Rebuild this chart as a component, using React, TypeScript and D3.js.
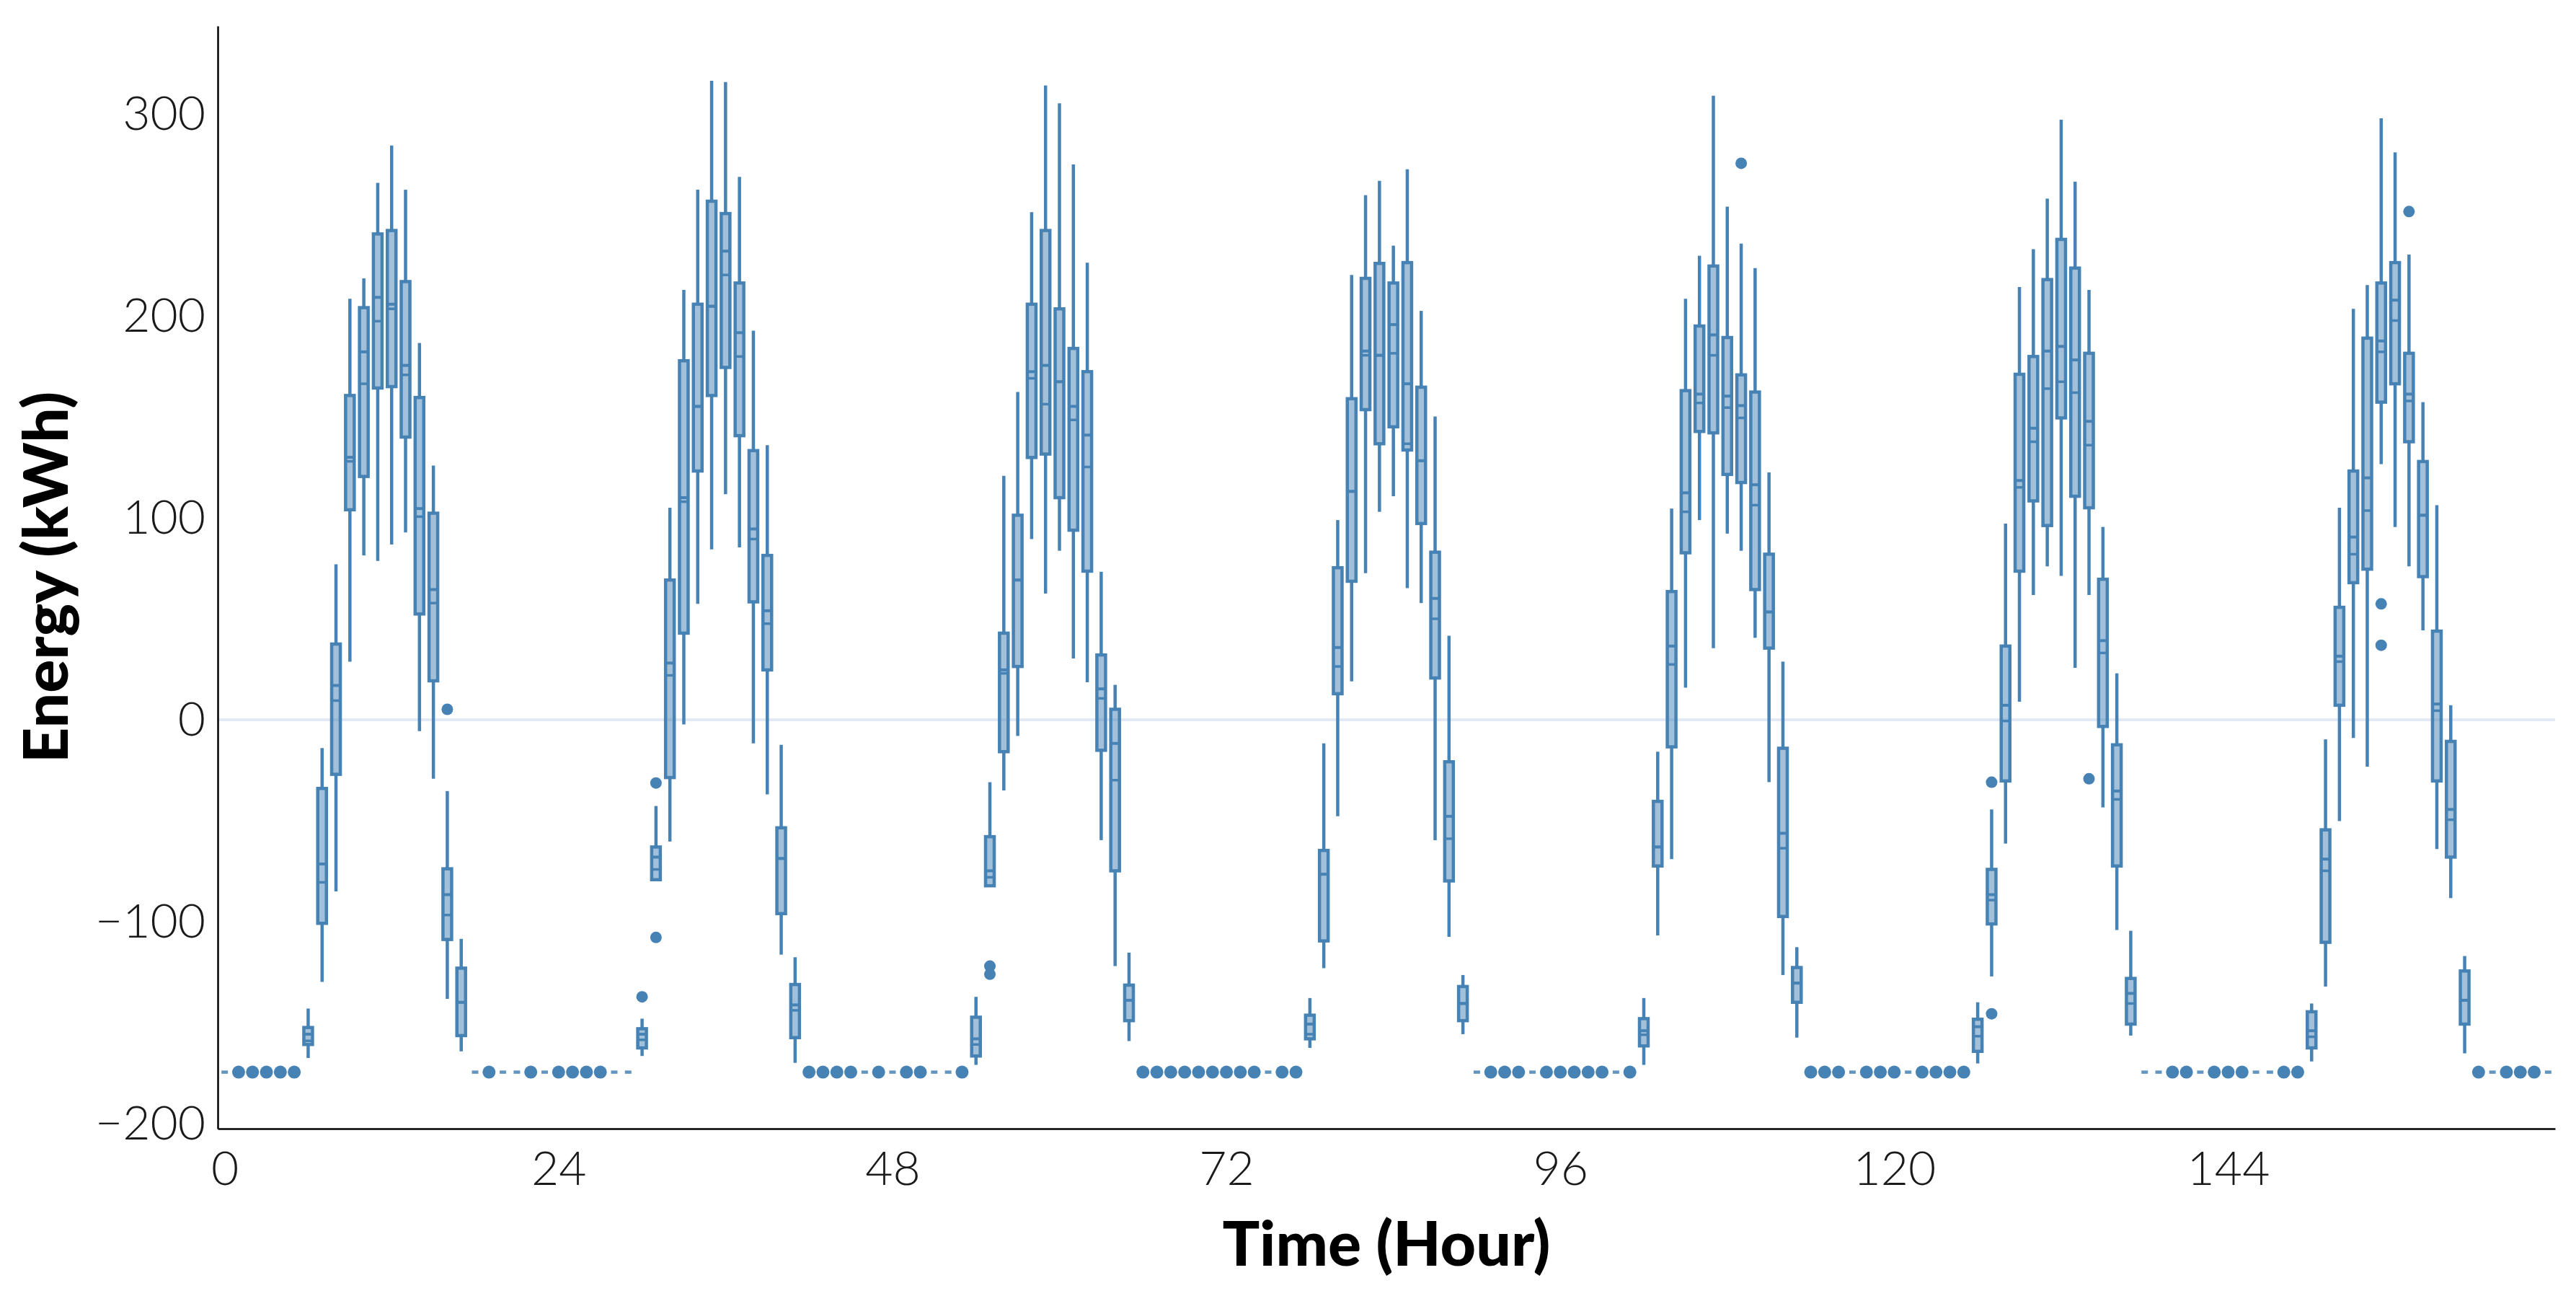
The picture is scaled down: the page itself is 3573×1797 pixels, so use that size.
import { useEffect, useRef } from 'react';
import * as d3 from 'd3';

// daytime hours that have a real box (the rest of the night sits flat at NIGHT_LEVEL)
const boxHours = [
  6, 7, 8, 9, 10, 11, 12, 13, 14, 15, 16, 17,
  30, 31, 32, 33, 34, 35, 36, 37, 38, 39, 40, 41,
  54, 55, 56, 57, 58, 59, 60, 61, 62, 63, 64, 65,
  78, 79, 80, 81, 82, 83, 84, 85, 86, 87, 88, 89,
  102, 103, 104, 105, 106, 107, 108, 109, 110, 111, 112, 113,
  126, 127, 128, 129, 130, 131, 132, 133, 134, 135, 136, 137,
  150, 151, 152, 153, 154, 155, 156, 157, 158, 159, 160, 161,
];

const lowerFence = [
  -167.5, -129.8, -85, 28.8, 81.4, 78.7, 86.8, 92.8, -5.6, -29.2, -138.2, -164.2,
  -166.5, -79.2, -60.3, -2.3, 57.4, 84.4, 111.7, 85.4, -11.7, -37, -116.3, -169.9,
  -170.9, -82.2, -35, -8, 89.5, 62.5, 83.7, 30.4, 18.6, -59.6, -122, -159.1,
  -162.5, -123, -47.8, 19, 72.6, 103, 110.7, 65.2, 57.8, -59.6, -107.5, -155.7,
  -170.9, -106.8, -69, 15.9, 98.9, 35.5, 92.2, 83.7, 40.6, -30.9, -126.4, -157.4,
  -170.2, -127.1, -61.3, 8.9, 61.8, 76, 71.3, 25.7, 61.8, -43.4, -104.1, -156.4,
  -169.2, -132.1, -50.2, -9, -23.2, 126.6, 95.5, 76, 44.3, -64, -88.3, -165.2,
];

const q1 = [
  -160.8, -100.8, -27, 104, 120.5, 164.3, 165, 140, 52.4, 19.3, -108.8, -156.4,
  -162.5, -79.2, -28.6, 42.9, 123.2, 160.6, 174.5, 140.7, 58.4, 24.7, -96, -157.4,
  -166.5, -82.2, -15.8, 26.4, 129.9, 131.6, 110, 93.9, 73.6, -15.1, -74.8, -149,
  -158, -109.5, 12.9, 68.6, 153.6, 136.7, 145.1, 133.6, 97.2, 20.7, -79.8, -149,
  -161.5, -72.4, -13.4, 82.7, 142.8, 142.1, 121.5, 117.5, 64.5, 35.5, -97.4, -139.9,
  -164.2, -101.1, -30.3, 73.6, 108.4, 96.2, 149.5, 110.7, 105, -3.3, -72.4, -150.7,
  -162.5, -110.2, 7.2, 67.9, 74.6, 157.3, 166.4, 137.7, 70.9, -30.3, -68, -150.7,
];

const median = [
  -155.7, -71.4, 17, 130, 182.2, 209.2, 205.8, 175.5, 104.6, 64.5, -86.6, -139.9,
  -155.7, -68, 28.1, 110, 155.2, 204.8, 232.1, 191.7, 94.5, 54, -68.7, -141.2,
  -158, -74.8, 24.7, 69.2, 172.4, 175.5, 167.4, 155.2, 141, 15.3, -11.7, -138.9,
  -150.7, -76.5, 35.8, 113.1, 182.6, 180.5, 195.7, 166.4, 128.3, 60.1, -47.8, -140.5,
  -154, -63, 36.5, 112.4, 161.3, 190.6, 160.3, 155.6, 116.4, 53.4, -56.2, -130.4,
  -152, -86.6, 7.2, 118.5, 144.4, 182.6, 184.9, 178.2, 147.8, 39.2, -35.3, -135.5,
  -154, -69, 31.5, 90.5, 119.8, 187.6, 207.8, 161.3, 101.3, 7.8, -44.4, -138.9,
];

const mean = [
  -159, -80.5, 9.5, 128, 166.4, 197.4, 203.5, 170.8, 100.6, 57.8, -96.7, -139.9,
  -158.5, -74.1, 22, 108, 155.2, 204.8, 220.3, 179.9, 89.5, 47.6, -68.7, -143.9,
  -160.8, -78, 23, 69.2, 169.1, 156.3, 167.4, 148.5, 125.2, 10.6, -29.9, -138.9,
  -155.7, -76.5, 26.4, 113.1, 180.5, 180.5, 181.5, 136.7, 128.3, 50, -58.9, -140.5,
  -156, -63, 27.4, 103, 156.9, 180.5, 154.6, 149.5, 106.3, 53.4, -63.6, -130.4,
  -156.7, -89.3, -0.6, 115.1, 137.7, 164, 167.4, 162, 136, 33.1, -39.4, -140.5,
  -157, -74.8, 28.8, 82, 103.6, 182.2, 197.7, 157.9, 101.3, 4.5, -49.5, -138.9,
];

const q3 = [
  -152.4, -34, 37.5, 160.6, 204.1, 240.6, 242.3, 217, 159.6, 102.3, -73.8, -123,
  -153, -63, 69.2, 177.8, 205.8, 256.8, 250.7, 216.3, 133.3, 81.4, -53.5, -131.1,
  -147.3, -57.9, 42.9, 101.3, 205.8, 242.3, 203.5, 183.9, 172.4, 32.1, 5.2, -131.4,
  -146.3, -64.7, 75.3, 159, 218.6, 226, 216.3, 226.4, 164.7, 83, -20.8, -132.1,
  -148, -40.4, 63.5, 163, 195, 224.7, 189.3, 170.8, 162.3, 82, -14.1, -122.7,
  -148.3, -74.1, 36.5, 171.1, 179.9, 218, 237.9, 223.7, 181.5, 69.6, -12.4, -128.1,
  -144.6, -54.5, 55.7, 123.2, 189, 216.3, 226.4, 181.5, 127.9, 43.9, -10.7, -124.4,
];

const upperFence = [
  -143, -14, 77, 208.5, 218.6, 265.9, 284.4, 262.5, 186.6, 125.9, -35.3, -108.5,
  -148, -42.7, 105, 212.9, 262.5, 316.5, 315.8, 268.9, 192.7, 136, -12.4, -117.6,
  -137.2, -30.9, 120.8, 162.3, 251.4, 314.1, 305.3, 275, 226.4, 73.3, 17.3, -115.3,
  -137.8, -11.7, 98.9, 220.3, 259.8, 266.9, 234.8, 272.6, 202.5, 150.2, 41.6, -126.4,
  -137.8, -15.8, 104.6, 208.5, 229.8, 309, 254.1, 235.8, 223.7, 122.5, 28.8, -112.6,
  -139.9, -44.4, 97.2, 214.3, 233.1, 258.1, 297.2, 266.5, 212.9, 95.5, 23, -104.5,
  -140.5, -9.7, 105, 203.5, 215.3, 297.9, 281, 230.4, 157.3, 106.3, 7.2, -117,
];

// [hour, value]
const outliers: [number, number][] = [
  [16, 5.2], [30, -137.2], [31, -31.3], [31, -107.8], [55, -122], [55, -126],
  [109, 275.6], [127, -30.9], [127, -145.6], [134, -29.2],
  [155, 57.4], [155, 36.9], [157, 251.7],
];

const NIGHT_LEVEL = -174.5;

const nightHours = [
  0, 1, 2, 3, 4, 5,
  18, 19, 20, 21, 22, 23, 24, 25, 26, 27, 28, 29,
  42, 43, 44, 45, 46, 47, 48, 49, 50, 51, 52, 53,
  66, 67, 68, 69, 70, 71, 72, 73, 74, 75, 76, 77,
  90, 91, 92, 93, 94, 95, 96, 97, 98, 99, 100, 101,
  114, 115, 116, 117, 118, 119, 120, 121, 122, 123, 124, 125,
  138, 139, 140, 141, 142, 143, 144, 145, 146, 147, 148, 149,
  162, 163, 164, 165, 166, 167,
];

const nightDotHours = [
  1, 2, 3, 4, 5,
  19, 22, 24, 25, 26, 27,
  42, 43, 44, 45, 47, 49, 50, 53,
  66, 67, 68, 69, 70, 71, 72, 73, 74, 76, 77,
  91, 92, 93, 95, 96, 97, 98, 99, 101,
  114, 115, 116, 118, 119, 120, 122, 123, 124, 125,
  140, 141, 143, 144, 145, 148, 149,
  162, 164, 165, 166,
];

const xTicks = [0, 24, 48, 72, 96, 120, 144];
const yTicks = [-200, -100, 0, 100, 200, 300];

const W = 3573;
const H = 1797;
const M = { top: 36, right: 29, bottom: 232, left: 302 };
const BLUE = '#4682b4';
const BOX_W = 12;

export default function App() {
  const svgRef = useRef<SVGSVGElement>(null);

  useEffect(() => {
    document.body.style.margin = '0';
    document.body.style.overflow = 'hidden';
    if (!svgRef.current) return;

    const svg = d3.select(svgRef.current);
    svg.selectAll('*').remove();

    const x = d3.scaleLinear([-0.5, 167.5], [M.left, W - M.right]);
    const y = d3.scaleLinear([-202.5, 343.6], [H - M.bottom, M.top]);

    // zero line
    svg.append('line')
      .attr('x1', M.left).attr('x2', W - M.right)
      .attr('y1', y(0)).attr('y2', y(0))
      .attr('stroke', '#e2e9f4')
      .attr('stroke-width', 4);

    // night hours: collapsed boxes
    const night = svg.append('g');
    nightHours.forEach(h => {
      night.append('line')
        .attr('x1', x(h) - 4.5).attr('x2', x(h) + 4.5)
        .attr('y1', y(NIGHT_LEVEL)).attr('y2', y(NIGHT_LEVEL))
        .attr('stroke', BLUE)
        .attr('stroke-opacity', 0.85)
        .attr('stroke-width', 4.5);
    });
    nightDotHours.forEach(h => {
      night.append('circle')
        .attr('cx', x(h)).attr('cy', y(NIGHT_LEVEL))
        .attr('r', 9)
        .attr('fill', BLUE);
    });

    // day boxes
    const boxes = svg.append('g');
    boxHours.forEach((h, i) => {
      const cx = x(h);
      const g = boxes.append('g');
      // whiskers
      g.append('line')
        .attr('x1', cx).attr('x2', cx)
        .attr('y1', y(upperFence[i])).attr('y2', y(q3[i]))
        .attr('stroke', BLUE).attr('stroke-width', 4.5);
      g.append('line')
        .attr('x1', cx).attr('x2', cx)
        .attr('y1', y(q1[i])).attr('y2', y(lowerFence[i]))
        .attr('stroke', BLUE).attr('stroke-width', 4.5);
      // box
      g.append('rect')
        .attr('x', cx - BOX_W / 2)
        .attr('y', y(q3[i]))
        .attr('width', BOX_W)
        .attr('height', Math.max(0, y(q1[i]) - y(q3[i])))
        .attr('fill', 'rgba(70,130,180,0.5)')
        .attr('stroke', BLUE)
        .attr('stroke-width', 4.5);
      // median + mean
      g.append('line')
        .attr('x1', cx - BOX_W / 2).attr('x2', cx + BOX_W / 2)
        .attr('y1', y(median[i])).attr('y2', y(median[i]))
        .attr('stroke', BLUE).attr('stroke-width', 4);
      g.append('line')
        .attr('x1', cx - BOX_W / 2).attr('x2', cx + BOX_W / 2)
        .attr('y1', y(mean[i])).attr('y2', y(mean[i]))
        .attr('stroke', BLUE).attr('stroke-width', 3.5);
    });

    // outliers
    svg.append('g')
      .selectAll('circle')
      .data(outliers)
      .join('circle')
      .attr('cx', d => x(d[0]))
      .attr('cy', d => y(d[1]))
      .attr('r', 8)
      .attr('fill', BLUE);

    // axes
    const fmt = (d: d3.NumberValue) => {
      const v = +d;
      return v < 0 ? `\u2212${Math.abs(v)}` : `${v}`;
    };

    svg.append('g')
      .attr('transform', `translate(${M.left},0)`)
      .call(d3.axisLeft(y).tickValues(yTicks).tickSize(0).tickPadding(17).tickFormat(fmt))
      .call(g2 => {
        g2.select('.domain').attr('stroke', '#000').attr('stroke-width', 2.5);
        g2.selectAll('text')
          .attr('fill', '#1a1a1a')
          .attr('font-family', 'Lato, sans-serif')
          .attr('font-weight', 300)
          .attr('font-size', 66);
      });

    svg.append('g')
      .attr('transform', `translate(0,${H - M.bottom})`)
      .call(d3.axisBottom(x).tickValues(xTicks).tickSize(0).tickPadding(31).tickFormat(fmt))
      .call(g2 => {
        g2.select('.domain').attr('stroke', '#000').attr('stroke-width', 2.5);
        g2.selectAll('text')
          .attr('fill', '#1a1a1a')
          .attr('font-family', 'Lato, sans-serif')
          .attr('font-weight', 300)
          .attr('font-size', 66);
      });

    // axis titles
    svg.append('text')
      .attr('transform', `translate(94,${(M.top + H - M.bottom) / 2}) rotate(-90)`)
      .attr('text-anchor', 'middle')
      .attr('font-family', 'Lato, sans-serif')
      .attr('font-weight', 900)
      .attr('font-size', 86)
      .attr('fill', '#000')
      .text('Energy (kWh)');

    svg.append('text')
      .attr('x', (M.left + W - M.right) / 2)
      .attr('y', 1755)
      .attr('text-anchor', 'middle')
      .attr('font-family', 'Lato, sans-serif')
      .attr('font-weight', 900)
      .attr('font-size', 86)
      .attr('fill', '#000')
      .text('Time (Hour)');
  }, []);

  return <svg ref={svgRef} width={W} height={H} style={{ display: 'block', background: '#fff' }} />;
}
